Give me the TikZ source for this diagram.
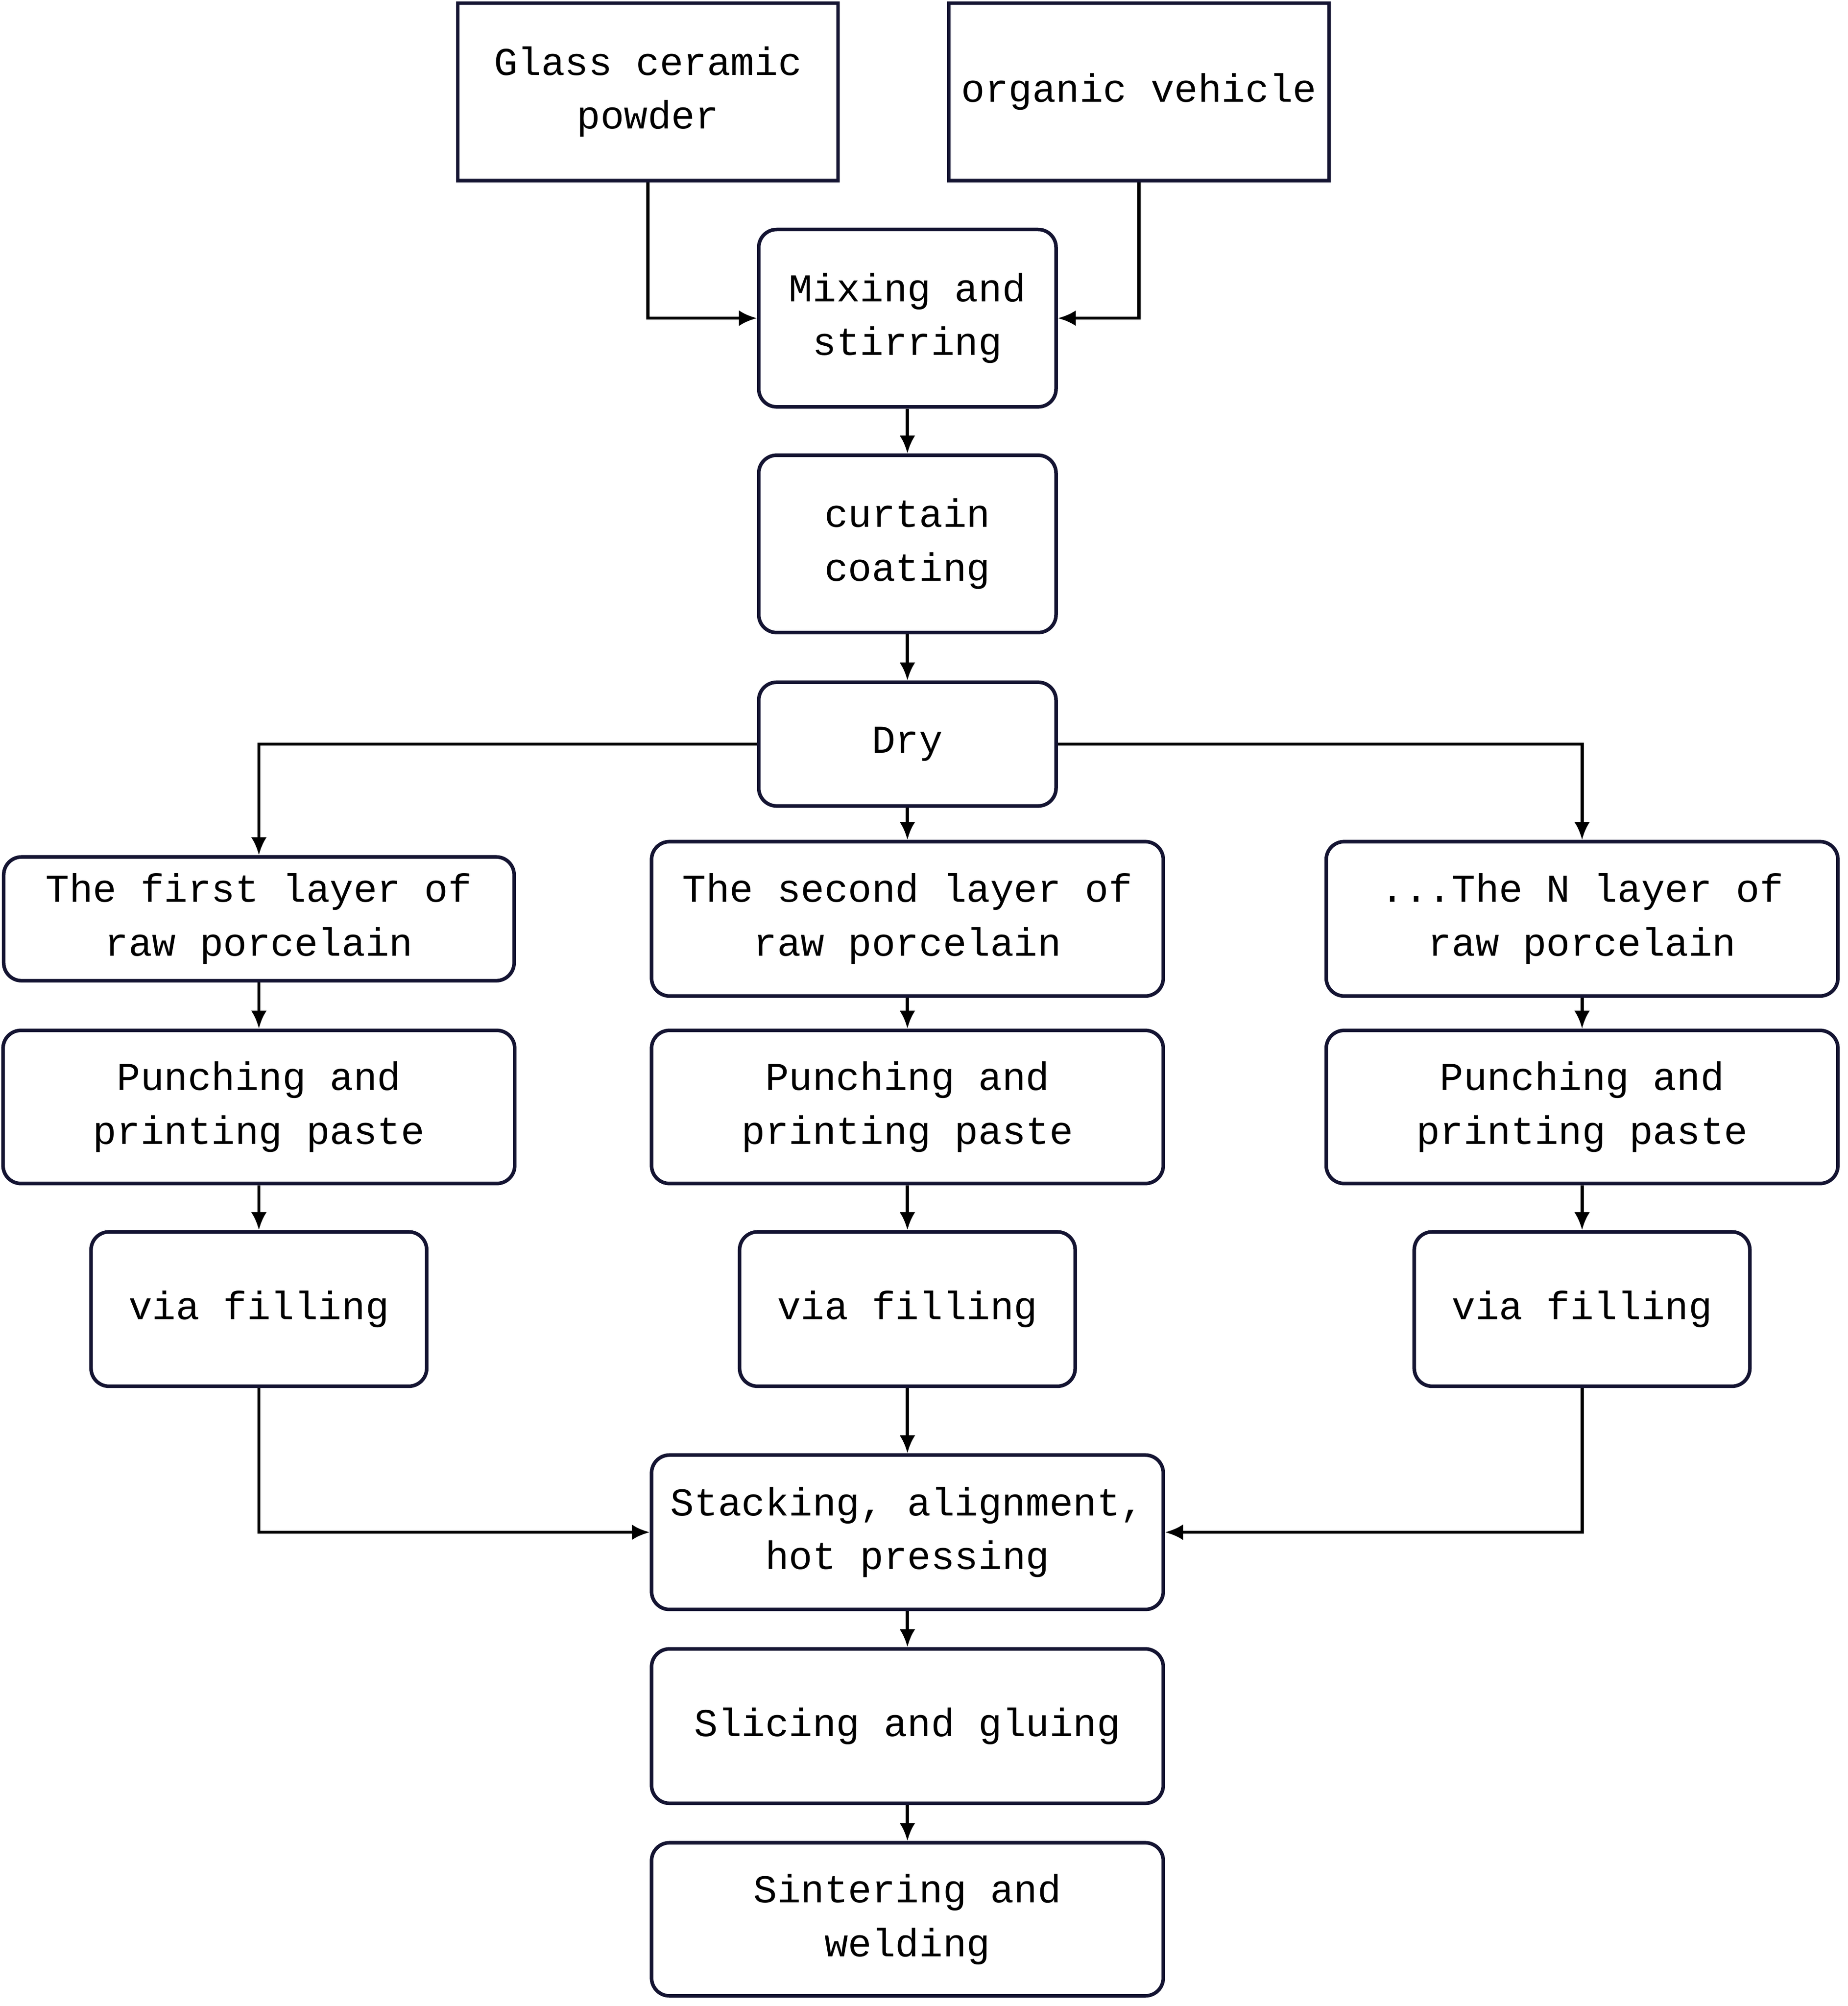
\documentclass[tikz,border=0pt]{standalone}
\usepackage{fontspec}
\setmainfont{Liberation Mono}
\usetikzlibrary{arrows.meta}
\definecolor{bd}{RGB}{20,20,50}
\begin{document}
\begin{tikzpicture}[x=0.01cm,y=-0.01cm,
  b/.style={draw=bd,line width=0.8pt,inner sep=0pt,align=center,font=\fontsize{8.8}{12}\selectfont},
  r/.style={b,rounded corners=4pt},
  a/.style={draw=black,line width=0.7pt,-{Latex[length=4pt,width=3.5pt]}}]
\useasboundingbox (0,0) rectangle (1449,1573);
\node[b,minimum width=2.98cm,minimum height=1.39cm] (g) at (508,72) {Glass ceramic\\powder};
\node[b,minimum width=2.98cm,minimum height=1.39cm] (o) at (893,72) {organic vehicle};
\node[r,minimum width=2.33cm,minimum height=1.39cm] (m) at (711.5,249.5) {Mixing and\\stirring};
\node[r,minimum width=2.33cm,minimum height=1.39cm] (c) at (711.5,426.5) {curtain\\coating};
\node[r,minimum width=2.33cm,minimum height=0.97cm] (d) at (711.5,583.5) {Dry};
\node[r,minimum width=4.0cm,minimum height=0.97cm] (l1) at (203,720.5) {The first layer of\\raw porcelain};
\node[r,minimum width=4.01cm,minimum height=1.21cm] (l2) at (711.5,720.5) {The second layer of\\raw porcelain};
\node[r,minimum width=4.01cm,minimum height=1.21cm] (l3) at (1240.5,720.5) {...The N layer of\\raw porcelain};
\foreach \n/\x in {1/203,2/711.5,3/1240.5}{
  \node[r,minimum width=4.01cm,minimum height=1.2cm] (p\n) at (\x,868) {Punching and\\printing paste};
  \node[r,minimum width=2.63cm,minimum height=1.21cm] (v\n) at (\x,1026.5) {via filling};
}
\node[r,minimum width=4.01cm,minimum height=1.21cm] (s) at (711.5,1201.5) {Stacking, alignment,\\hot pressing};
\node[r,minimum width=4.01cm,minimum height=1.21cm] (sl) at (711.5,1353.5) {Slicing and gluing};
\node[r,minimum width=4.01cm,minimum height=1.2cm] (si) at (711.5,1505) {Sintering and\\welding};
\draw[a] (g.south) |- (m.west);
\draw[a] (o.south) |- (m.east);
\draw[a] (m) -- (c);
\draw[a] (c) -- (d);
\draw[a] (d.west) -| (l1.north);
\draw[a] (d.east) -| (l3.north);
\draw[a] (d) -- (l2);
\foreach \n in {1,2,3}{
  \draw[a] (l\n) -- (p\n);
  \draw[a] (p\n) -- (v\n);
}
\draw[a] (v1.south) |- (s.west);
\draw[a] (v3.south) |- (s.east);
\draw[a] (v2) -- (s);
\draw[a] (s) -- (sl);
\draw[a] (sl) -- (si);
\end{tikzpicture}
\end{document}
